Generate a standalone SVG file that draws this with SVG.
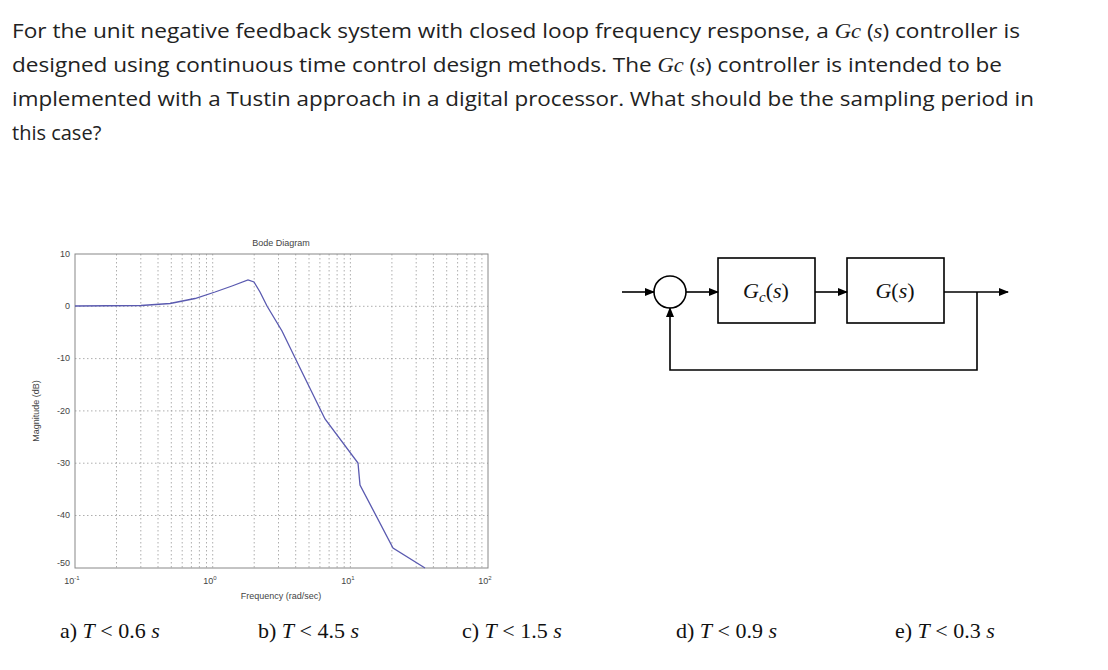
<svg xmlns="http://www.w3.org/2000/svg" width="1108" height="670" viewBox="0 0 1108 670">
<style>
.q{font-family:"Open Sans","Liberation Sans",sans-serif;font-size:20px;fill:#222}
.m{font-family:"Liberation Serif",serif;font-style:italic}
.t{font-family:"Liberation Sans",sans-serif;font-size:9px;fill:#444}
.g{stroke:#999;stroke-width:0.8;stroke-dasharray:1.5 2.5;fill:none}
.ans{font-family:"Liberation Serif",serif;font-size:22px;fill:#111}
.ln{stroke:#000;stroke-width:1.6;fill:none}
.bl{font-family:"Liberation Serif",serif;font-size:22px;fill:#111}
</style>
<defs><marker id="a" markerWidth="10" markerHeight="8" refX="9" refY="4" orient="auto" markerUnits="userSpaceOnUse"><path d="M0,0L10,4L0,8z" fill="#000"/></marker></defs>
<rect width="1108" height="670" fill="#fff"/>
<g id="question">
<text class="q" x="12" y="38" textLength="1008" lengthAdjust="spacingAndGlyphs">For the unit negative feedback system with closed loop frequency response, a <tspan class="m">Gc</tspan> (<tspan class="m">s</tspan>) controller is</text>
<text class="q" x="12" y="72" textLength="990" lengthAdjust="spacingAndGlyphs">designed using continuous time control design methods. The <tspan class="m">Gc</tspan> (<tspan class="m">s</tspan>) controller is intended to be</text>
<text class="q" x="12" y="106" textLength="1022" lengthAdjust="spacingAndGlyphs">implemented with a Tustin approach in a digital processor. What should be the sampling period in</text>
<text class="q" x="12" y="140">this case?</text>
</g>
<g id="bode">
<text class="t" x="281" y="246" text-anchor="middle">Bode Diagram</text>
<g class="g">
<path d="M116.5 254V568M140.8 254V568M158 254V568M171.3 254V568M182.2 254V568M191.4 254V568M199.4 254V568M206.5 254V568M212.7 254V568M254.2 254V568M278.5 254V568M295.7 254V568M309 254V568M319.9 254V568M329.1 254V568M337.1 254V568M344.2 254V568M350.4 254V568M391.9 254V568M416.2 254V568M433.4 254V568M446.7 254V568M457.6 254V568M466.8 254V568M474.8 254V568M481.9 254V568"/>
<path d="M75 306.3H488M75 358.6H488M75 410.9H488M75 463.2H488M75 515.5H488"/>
</g>
<rect x="75" y="254" width="413" height="314" fill="none" stroke="#888" stroke-width="1"/>
<path d="M75 306 L141 305.5 L170 303.5 L195 298.5 L215 292 L232 286 L248 280 L254 282 L260 292 L267 306 L282 331 L300 368 L325 419 L358 463 L360 485 L393 548 L425 568" fill="none" stroke="#5a5ab0" stroke-width="1.3" transform="translate(0,0)"/>
<g class="t" text-anchor="end">
<text x="70" y="257">10</text><text x="70" y="309">0</text><text x="70" y="361">-10</text><text x="70" y="414">-20</text><text x="70" y="466">-30</text><text x="70" y="518">-40</text><text x="70" y="566">-50</text>
</g>
<g class="t" text-anchor="middle">
<text x="72" y="584">10<tspan font-size="6" dy="-4">-1</tspan></text>
<text x="210" y="584">10<tspan font-size="6" dy="-4">0</tspan></text>
<text x="348" y="584">10<tspan font-size="6" dy="-4">1</tspan></text>
<text x="485" y="584">10<tspan font-size="6" dy="-4">2</tspan></text>
<text x="281" y="599">Frequency  (rad/sec)</text>
</g>
<text class="t" transform="translate(39,411) rotate(-90)" text-anchor="middle">Magnitude (dB)</text>
</g>
<g id="sum"><circle cx="670" cy="292" r="16" fill="#fff" stroke="#000" stroke-width="1.6"/></g>
<g id="gc"><rect x="718" y="258" width="97" height="65" fill="#fff" stroke="#000" stroke-width="1.6"/><text class="bl" x="766" y="298" text-anchor="middle"><tspan font-style="italic" fill="#111">G</tspan><tspan font-style="italic" font-size="15" dy="4">c</tspan><tspan dy="-4">(</tspan><tspan font-style="italic">s</tspan>)</text></g>
<g id="g"><rect x="847" y="258" width="97" height="65" fill="#fff" stroke="#000" stroke-width="1.6"/><text class="bl" x="895" y="298" text-anchor="middle"><tspan font-style="italic">G</tspan>(<tspan font-style="italic">s</tspan>)</text></g>
<g id="connectors">
<path class="ln" d="M622 292H654" marker-end="url(#a)"/>
<path class="ln" d="M686 292H718" marker-end="url(#a)"/>
<path class="ln" d="M815 292H847" marker-end="url(#a)"/>
<path class="ln" d="M944 292H1008" marker-end="url(#a)"/>
<path class="ln" d="M977 292V370H670V308" marker-end="url(#a)"/>
</g>
<g id="answers" class="ans">
<text x="60" y="638">a) <tspan font-style="italic">T</tspan> &lt; 0.6 <tspan font-style="italic">s</tspan></text>
<text x="258" y="638">b) <tspan font-style="italic">T</tspan> &lt; 4.5 <tspan font-style="italic">s</tspan></text>
<text x="462" y="638">c) <tspan font-style="italic">T</tspan> &lt; 1.5 <tspan font-style="italic">s</tspan></text>
<text x="676" y="638">d) <tspan font-style="italic">T</tspan> &lt; 0.9 <tspan font-style="italic">s</tspan></text>
<text x="895" y="638">e) <tspan font-style="italic">T</tspan> &lt; 0.3 <tspan font-style="italic">s</tspan></text>
</g>
</svg>
